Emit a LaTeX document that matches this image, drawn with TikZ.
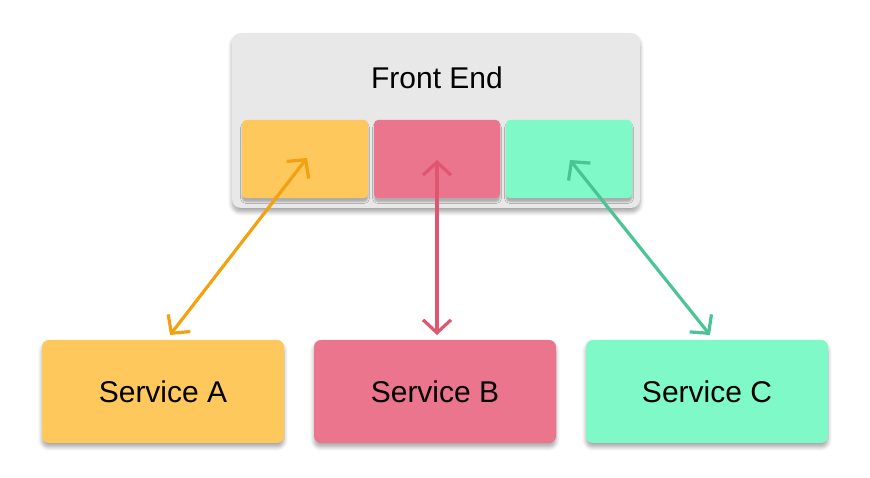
\documentclass[tikz,border=0pt]{standalone}
\usepackage{fontspec}
\setmainfont{Liberation Sans}
\usetikzlibrary{arrows.meta,shadows.blur}
\definecolor{feGrey}{HTML}{E8E8E8}
\definecolor{svcYellow}{HTML}{FEC85D}
\definecolor{svcPink}{HTML}{EA758C}
\definecolor{svcGreen}{HTML}{7EF9C7}
\definecolor{arrYellow}{HTML}{F3A10E}
\definecolor{arrPink}{HTML}{E05570}
\definecolor{arrGreen}{HTML}{4CC394}
\tikzset{
  boxshadow/.style={blur shadow={shadow blur steps=6, shadow xshift=0pt, shadow yshift=-4pt, shadow blur radius=4pt, shadow opacity=35}},
  smallshadow/.style={blur shadow={shadow blur steps=4, shadow xshift=0pt, shadow yshift=-4pt, shadow blur radius=1.5pt, shadow opacity=25}},
  outerbox/.style={boxshadow, fill=feGrey, rounded corners=9pt, minimum width=408pt, minimum height=175pt, inner sep=0pt},
  innerbox/.style={smallshadow, rounded corners=4pt, minimum width=126pt, minimum height=78pt, inner sep=0pt},
  svcbox/.style={boxshadow, rounded corners=7pt, minimum width=242pt, minimum height=103pt, inner sep=0pt, font=\fontsize{30}{36}\selectfont},
  link/.style={line width=3.2pt, line cap=round, {Straight Barb[length=13pt,width=28pt,line width=3.2pt]}-{Straight Barb[length=13pt,width=28pt,line width=3.2pt]}},
}
\begin{document}
\begin{tikzpicture}[x=1pt,y=1pt]
\useasboundingbox (0,0) rectangle (870,478);
\node[outerbox] (fe) at (436,357.5) {};
\node[font=\fontsize{30}{36}\selectfont] (fetitle) at (437,400) {Front End};
\node[innerbox, fill=svcYellow] (ia) at (305,319) {};
\node[innerbox, fill=svcPink] (ib) at (437,319) {};
\node[innerbox, fill=svcGreen] (ic) at (569,319) {};
\node[svcbox, fill=svcYellow] (sa) at (163,86.5) {Service A};
\node[svcbox, fill=svcPink] (sb) at (435,86.5) {Service B};
\node[svcbox, fill=svcGreen] (sc) at (707,86.5) {Service C};
\coordinate (ya) at (307,320);
\coordinate (yb) at (170,143);
\coordinate (pa) at (437,318);
\coordinate (pb) at (437,143);
\coordinate (ga) at (570,318);
\coordinate (gb) at (710,143);
\draw[link, arrYellow] (yb) -- (ya);
\draw[link, arrPink] (pb) -- (pa);
\draw[link, arrGreen] (gb) -- (ga);
\end{tikzpicture}
\end{document}
